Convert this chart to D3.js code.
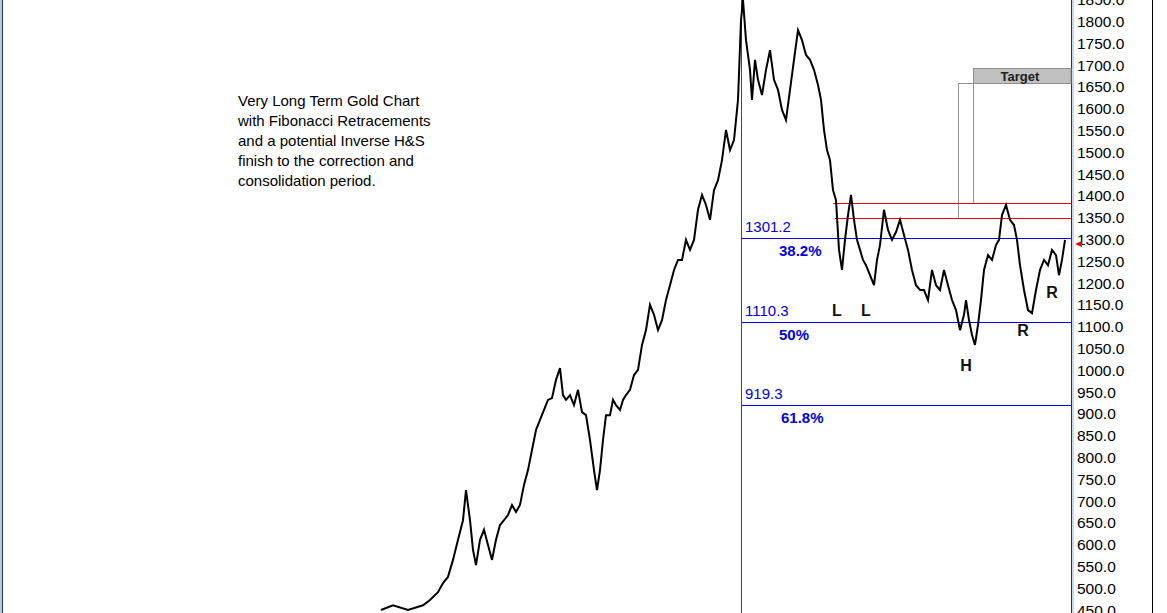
<!DOCTYPE html>
<html>
<head>
<meta charset="utf-8">
<script src="https://cdn.jsdelivr.net/npm/d3@7"></script>
<style>
body{margin:0;background:#fff;}
svg{display:block;font-family:Arial,"Liberation Sans",sans-serif;}
</style>
</head>
<body>
<svg id="chart" width="1167" height="613"></svg>
<script>
// week number (from Jan 2005) and weekly gold price
var weeks = [0,12,27,42,49,57,62,67,72,77,82,85,89,92,95,99,103,107,111,115,119,123,127,131,135,139,143,147,151,155,159,163,167,171,175,179,182,185,189,193,197,201,205,209,213,216,219,222,225,229,232,235,239,242,245,249,253,257,261,265,269,273,277,281,285,289,293,297,301,305,309,313,317,321,325,329,333,337,341,345,349,353,357,360,362,365,369,371,374,377,381,385,389,393,397,401,405,409,413,417,421,425,429,433,437,440,443,446,449,452,455,458,461,464,467,470,473,476,479,482,485,489,493,496,499,503,507,511,515,519,523,527,531,535,539,543,547,551,555,559,563,567,571,575,579,583,585,588,591,594,597,600,603,607,611,615,618,621,625,629,633,636,639,643,647,651,655,659,663,667,671,675,678,681,684];
var price = [449,460,449,460,472,490,511,525,564,610,655,724,655,587,552,610,633,598,564,610,644,655,667,690,674,690,736,770,816,862,885,908,931,935,977,1004,942,931,942,919,954,903,896,839,770,724,770,839,896,896,931,919,908,931,942,954,988,1000,1057,1091,1149,1126,1091,1114,1160,1194,1229,1252,1252,1298,1275,1298,1367,1401,1378,1344,1412,1435,1481,1550,1504,1527,1619,1802,1848,1756,1688,1619,1711,1665,1630,1688,1733,1665,1642,1596,1573,1642,1711,1779,1756,1722,1711,1688,1653,1619,1550,1504,1481,1412,1389,1275,1229,1298,1355,1401,1344,1298,1275,1252,1240,1217,1194,1252,1286,1367,1321,1298,1316,1344,1309,1275,1229,1194,1183,1183,1160,1229,1194,1183,1229,1194,1160,1137,1091,1126,1160,1114,1080,1057,1103,1160,1229,1263,1252,1286,1298,1355,1378,1344,1332,1298,1240,1183,1137,1130,1183,1229,1252,1240,1275,1263,1217,1252,1298,1355,1298,1286];

var fibValues = [1301.2, 1110.3, 919.3];
var fibPercents = ["38.2%", "50%", "61.8%"];
var resistance = [1383, 1348];
var yTicks = d3.range(450, 1851, 50);
var patternLabels = [{t:"L",w:456,v:1123},{t:"L",w:485,v:1123},{t:"H",w:585,v:997},{t:"R",w:642,v:1077},{t:"R",w:671,v:1165}];
var noteLines = ["Very Long Term Gold Chart","with Fibonacci Retracements","and a potential Inverse H&S","finish to the correction and","consolidation period."];

var svg = d3.select("#chart");
var plotL = 3, plotR = 1071, axisR = 1152;

var x = d3.scaleLinear().domain([-380, 688]).range([1, 1069]);
var y = d3.scaleLinear().domain([1800, 450]).range([21, 609.6]);

// frame
svg.append("rect").attr("x",0).attr("y",0).attr("width",3).attr("height",613).attr("fill","#b8c8e0");
svg.append("line").attr("x1",2.5).attr("x2",2.5).attr("y1",0).attr("y2",613).attr("stroke","#203060");
svg.append("rect").attr("x",plotR).attr("y",0).attr("width",3).attr("height",613).attr("fill","#c8d8ee");
svg.append("line").attr("x1",plotR+0.5).attr("x2",plotR+0.5).attr("y1",0).attr("y2",613).attr("stroke","#203060");
svg.append("line").attr("x1",axisR+0.5).attr("x2",axisR+0.5).attr("y1",0).attr("y2",613).attr("stroke","#000");

// right axis labels
svg.append("g").selectAll("text").data(yTicks).enter().append("text")
    .attr("x",1077).attr("y",function(d){return y(d)+6;})
    .attr("font-size",15.5).attr("fill","#000")
    .text(function(d){return d.toFixed(1);});
svg.append("path").attr("d","M1075,244 L1082,241 L1082,247 Z").attr("fill","#e00000");

// vertical marker at high
var xv = 741.5;
svg.append("line").attr("x1",xv).attr("x2",xv).attr("y1",0).attr("y2",613).attr("stroke","#107010").attr("stroke-width",1);

// fib lines
fibValues.forEach(function(v,i){
    svg.append("line").attr("x1",xv).attr("x2",plotR).attr("y1",Math.round(y(v))+0.5).attr("y2",Math.round(y(v))+0.5)
        .attr("stroke","#0000e0");
    svg.append("text").attr("x",745).attr("y",y(v)-6).attr("font-size",15).attr("fill","#0000e0").text(v.toFixed(1));
    svg.append("text").attr("x",i==2?781:779).attr("y",y(v)+18).attr("font-size",15).attr("font-weight","bold")
        .attr("fill","#0000e0").text(fibPercents[i]);
});

// target lines
svg.append("path").attr("d","M"+958.5+","+Math.round(y(resistance[1]))+" V"+83.5+" H"+plotR).attr("fill","none").attr("stroke","#909090");
svg.append("rect").attr("x",973.5).attr("y",68.5).attr("width",plotR-973.5).attr("height",15).attr("fill","#c0c0c0").attr("stroke","#909090");
svg.append("line").attr("x1",973.5).attr("x2",973.5).attr("y1",83).attr("y2",Math.round(y(resistance[0]))).attr("stroke","#909090");
svg.append("text").attr("x",1020).attr("y",81).attr("text-anchor","middle").attr("font-size",13).attr("font-weight","bold").attr("fill","#202020").text("Target");

// red resistance lines
svg.append("line").attr("x1",833).attr("x2",plotR).attr("y1",Math.round(y(resistance[0]))+0.5).attr("y2",Math.round(y(resistance[0]))+0.5).attr("stroke","#f00000");
svg.append("line").attr("x1",835).attr("x2",plotR).attr("y1",Math.round(y(resistance[1]))+0.5).attr("y2",Math.round(y(resistance[1]))+0.5).attr("stroke","#f00000");

// price
svg.append("defs").append("clipPath").attr("id","clip").append("rect").attr("x",plotL).attr("y",0).attr("width",plotR-plotL).attr("height",613);
var line = d3.line().x(function(d,i){return x(weeks[i]);}).y(function(d){return y(d);});
svg.append("path").datum(price).attr("clip-path","url(#clip)").attr("d",line)
    .attr("fill","none").attr("stroke","#000").attr("stroke-width",2).attr("stroke-linejoin","miter");

// pattern labels
svg.append("g").selectAll("text").data(patternLabels).enter().append("text")
    .attr("x",function(d){return x(d.w);}).attr("y",function(d){return y(d.v);})
    .attr("text-anchor","middle").attr("font-size",16).attr("font-weight","bold").attr("fill","#111")
    .text(function(d){return d.t;});

// note
svg.append("g").selectAll("text").data(noteLines).enter().append("text")
    .attr("x",238).attr("y",function(d,i){return 106+i*20;})
    .attr("font-size",15).attr("fill","#000").text(function(d){return d;});
</script>
</body>
</html>
